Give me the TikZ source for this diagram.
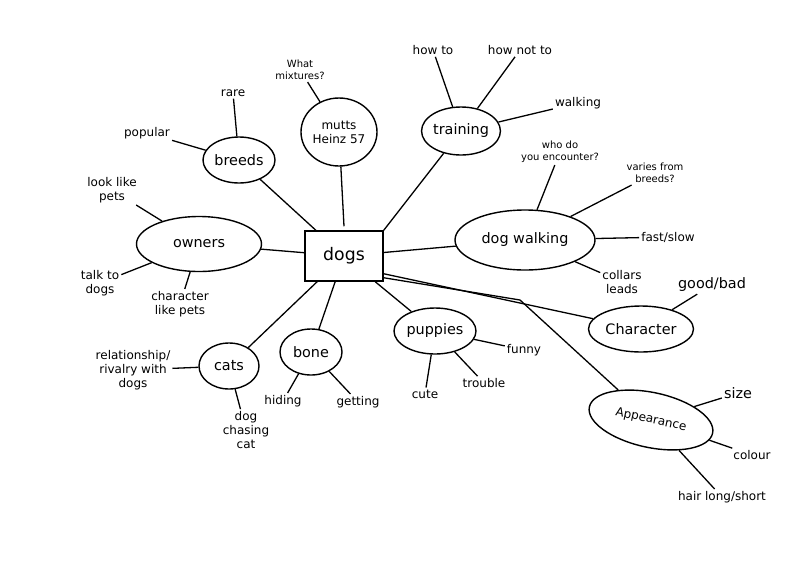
\documentclass[tikz,border=0pt]{standalone}
\usepackage{fontspec}
\setmainfont{DejaVu Sans}
\usetikzlibrary{shapes.geometric}
\begin{document}
\begin{tikzpicture}[x=1pt,y=-1pt,
  bub/.style={draw,line width=1.4pt,ellipse,inner sep=0pt,font=\Large},
  lab/.style={align=center,font=\large,inner sep=2pt},
  ln/.style={line width=1.3pt}]
\useasboundingbox (0,0) rectangle (800,563);
\node[draw,line width=1.5pt,minimum width=78,minimum height=50,font=\LARGE] (dogs) at (344,256) {dogs};
\node[bub,minimum width=72,minimum height=46] (breeds) at (239,160) {breeds};
\node[bub,minimum width=76,minimum height=68,align=center,font=\large] (mutts) at (339,132) {mutts\\Heinz 57};
\node[bub,minimum width=76,minimum height=48] (training) at (461,131) {training};
\node[bub,minimum width=140,minimum height=60] (walk) at (525,240) {dog walking};
\node[bub,minimum width=125,minimum height=55] (owners) at (199,244) {owners};
\node[bub,minimum width=105,minimum height=46] (char) at (641,329) {Character};
\node[bub,minimum width=82,minimum height=46] (pup) at (435,331) {puppies};
\node[bub,minimum width=62,minimum height=46] (bone) at (311,352) {bone};
\node[bub,minimum width=60,minimum height=46] (cats) at (229,366) {cats};
\node[bub,minimum width=126,minimum height=55,rotate=-12,font=\large] (app) at (651,420) {Appearance};
\coordinate (bend) at (520,300);

\node[lab] (rare) at (233,93) {rare};
\node[lab,font=\normalsize] (mix) at (300,70) {What\\mixtures?};
\node[lab] (popular) at (147,133) {popular};
\node[lab] (howto) at (433,50) {how to};
\node[lab] (hownot) at (520,50) {how not to};
\node[lab] (walking) at (578,103) {walking};
\node[lab,font=\normalsize] (who) at (560,152) {who do\\you encounter?};
\node[lab,font=\normalsize] (varies) at (655,173) {varies from\\breeds?};
\node[lab] (fast) at (668,237) {fast/slow};
\node[lab] (coll) at (622,282) {collars\\leads};
\node[lab,font=\Large] (good) at (712,285) {good/bad};
\node[lab] (look) at (112,190) {look like\\pets};
\node[lab] (talk) at (100,283) {talk to\\dogs};
\node[lab] (clp) at (180,304) {character\\like pets};
\node[lab] (rel) at (133,370) {relationship/\\rivalry with\\dogs};
\node[lab] (chase) at (246,430) {dog\\chasing\\cat};
\node[lab] (hiding) at (283,401) {hiding};
\node[lab] (getting) at (358,402) {getting};
\node[lab] (cute) at (425,394) {cute};
\node[lab] (trouble) at (484,383) {trouble};
\node[lab] (funny) at (524,350) {funny};
\node[lab,font=\Large] (size) at (738,393) {size};
\node[lab] (colour) at (752,455) {colour};
\node[lab] (hair) at (722,497) {hair long/short};

\draw[ln] (dogs) -- (breeds);
\draw[ln] (dogs.north) ++(0,-4) -- (mutts);
\draw[ln] (dogs.north east) -- (training);
\draw[ln] (dogs) -- (walk);
\draw[ln] (dogs) -- (owners);
\draw[ln] (dogs.south east) ++(0,-8) -- (char);
\draw[ln] (dogs.south east) ++(0,-4) -- (bend) -- (app);
\draw[ln] (dogs) -- (pup);
\draw[ln] (dogs) -- (bone);
\draw[ln] (dogs) -- (cats);
\draw[ln] (breeds) -- (rare);
\draw[ln] (breeds) -- (popular);
\draw[ln] (mutts) -- (mix);
\draw[ln] (training) -- (howto);
\draw[ln] (training) -- (hownot);
\draw[ln] (training) -- (walking);
\draw[ln] (walk) -- (who);
\draw[ln] (walk) -- (varies);
\draw[ln] (walk) -- (fast);
\draw[ln] (walk) -- (coll);
\draw[ln] (char) -- (good);
\draw[ln] (owners) -- (look);
\draw[ln] (owners) -- (talk);
\draw[ln] (owners) -- (clp);
\draw[ln] (cats) -- (rel);
\draw[ln] (cats) -- (chase);
\draw[ln] (bone) -- (hiding);
\draw[ln] (bone) -- (getting);
\draw[ln] (pup) -- (cute);
\draw[ln] (pup) -- (trouble);
\draw[ln] (pup) -- (funny);
\draw[ln] (app) -- (size);
\draw[ln] (app) -- (colour);
\draw[ln] (app) -- (hair);
\end{tikzpicture}
\end{document}
